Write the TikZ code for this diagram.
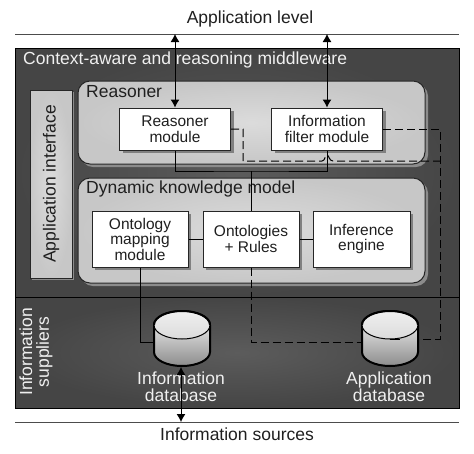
\documentclass[tikz,border=0pt]{standalone}
\usepackage{fontspec}
\setmainfont{Liberation Sans}
\usetikzlibrary{arrows.meta,calc,shadows}
\definecolor{dark}{gray}{0.27}
\definecolor{darkc}{gray}{0.36}
\definecolor{panel}{gray}{0.78}
\definecolor{panelc}{gray}{0.86}
\definecolor{lab}{gray}{0.94}
\tikzset{
  x=1pt,y=-1pt,
  every node/.style={font=\fontsize{17.5}{16.8}\selectfont,align=center,inner sep=0pt,text=black!88},
  zone/.style={draw=black,line width=0.9pt},
  panelbox/.style={draw=black!85,line width=1pt,rounded corners=12pt,inner color=panelc,outer color=panel,drop shadow={shadow xshift=3pt,shadow yshift=-3pt,fill=black!45,opacity=1}},
  modbox/.style={draw=black!85,line width=1pt,fill=white,font=\fontsize{15.5}{15.5}\selectfont,drop shadow={shadow xshift=3pt,shadow yshift=-3pt,fill=black!50,opacity=1}},
  whitetext/.style={text=lab},
  solidline/.style={draw=black,line width=1pt},
  dashline/.style={draw=black,line width=1pt,dash pattern=on 8pt off 4pt},
  biarrow/.style={draw=black,line width=1pt,{Latex[length=8pt,width=9pt]}-{Latex[length=8pt,width=9pt]}},
}
\newcommand{\cyl}[2]{% centre x, name
  \path[draw=black,line width=2pt,top color=white,bottom color=black!45]
    (#1-28,325) -- (#1-28,352) .. controls (#1-28,360) and (#1-15,366) .. (#1,366)
    .. controls (#1+15,366) and (#1+28,360) .. (#1+28,352) -- (#1+28,325)
    .. controls (#1+28,317) and (#1+15,311) .. (#1,311)
    .. controls (#1-15,311) and (#1-28,317) .. (#1-28,325) -- cycle;
  \path[draw=black,line width=1pt,top color=black!6,bottom color=black!14]
    (#1-28,325) .. controls (#1-28,333) and (#1-15,339) .. (#1,339)
    .. controls (#1+15,339) and (#1+28,333) .. (#1+28,325)
    .. controls (#1+28,317) and (#1+15,311) .. (#1,311)
    .. controls (#1-15,311) and (#1-28,317) .. (#1-28,325) -- cycle;
  \path[draw=black,line width=2pt]
    (#1-28,325) .. controls (#1-28,317) and (#1-15,311) .. (#1,311)
    .. controls (#1+15,311) and (#1+28,317) .. (#1+28,325);
  \coordinate (#2w) at (#1-28,342);
  \coordinate (#2e) at (#1+28,339);
}
\begin{document}
\begin{tikzpicture}
\useasboundingbox (0,0) rectangle (474,453);
\fill[white] (0,0) rectangle (474,453);
\node (applevel) at (250,19) {Application level};
\node (infosrc) at (237,434) {Information sources};
\coordinate (topL) at (15,34); \coordinate (topR) at (459,34);
\coordinate (botL) at (15,422); \coordinate (botR) at (459,422);
\draw[black!70,line width=1pt] (topL) -- (topR);
\draw[black!70,line width=1pt] (botL) -- (botR);
\path[zone,inner color=darkc,outer color=dark] (15,48) rectangle (459,297);
\path[zone,inner color=darkc,outer color=dark] (15,297) rectangle (459,408);
\node[whitetext,anchor=west] (mw) at (23,60) {Context-aware and reasoning middleware};
\node[whitetext,rotate=90] (sup) at (36,352) {Information\\suppliers};
% panels
\node[draw=black!85,line width=1pt,inner color=panelc,outer color=panel,minimum width=42pt,minimum height=188pt,drop shadow={shadow xshift=2pt,shadow yshift=-2pt,fill=black!45,opacity=1}] (ai) at (51,184) {};
\node[rotate=90] (ail) at (51,184) {Application interface};
\node[panelbox,minimum width=347pt,minimum height=83pt] (rpanel) at (251.5,122.5) {};
\node[panelbox,minimum width=347pt,minimum height=105pt] (kpanel) at (251.5,230.5) {};
\node[anchor=west] (rl) at (86,92) {Reasoner};
\node[anchor=west] (kl) at (86,189) {Dynamic knowledge model};
% modules
\node[modbox,minimum width=111pt,minimum height=42pt] (rm) at (175,129) {Reasoner\\module};
\node[modbox,minimum width=111pt,minimum height=42pt] (ifm) at (327,129) {Information\\filter module};
\node[modbox,minimum width=96pt,minimum height=56pt] (omm) at (140,239) {Ontology\\mapping\\module};
\node[modbox,minimum width=96pt,minimum height=56pt] (ont) at (251,239) {Ontologies\\+ Rules};
\node[modbox,minimum width=97pt,minimum height=56pt] (inf) at (361.5,239) {Inference\\engine};
\draw[solidline] (omm) -- (ont);
\draw[solidline] (ont) -- (inf);
% cylinders
\cyl{182}{idb}
\cyl{390}{adb}
\node[whitetext] (idbl) at (181,386.5) {Information\\database};
\node[whitetext] (adbl) at (389,386.5) {Application\\database};
% connectors
\coordinate (hub) at (251,171);
\draw[solidline] (rm.south) |- (hub) -| (ifm.south);
\draw[solidline] (hub) -- (ont.north);
\draw[solidline] (omm.south) |- (idbw);
\draw[dashline] (ont.south) |- (adbw);
\draw[dashline] (ifm.east) -- (440,129) -- (440,339) -- (adbe);
\draw[dashline] (rm.east) -- (243,129) -- (243,161) -- (322,161) .. controls (325,161) and (325,155) .. (327,155) .. controls (329,155) and (329,161) .. (333,161) -- (440,161);
\draw[biarrow] (rm.north |- topR) -- (rm.north);
\draw[biarrow] (ifm.north |- topR) -- (ifm.north);
\coordinate (idbb) at (181,367);
\draw[biarrow] (idbb) -- (idbb |- botR);
\draw[black,line width=1pt] (390,339) -- (400,339);
\end{tikzpicture}
\end{document}
